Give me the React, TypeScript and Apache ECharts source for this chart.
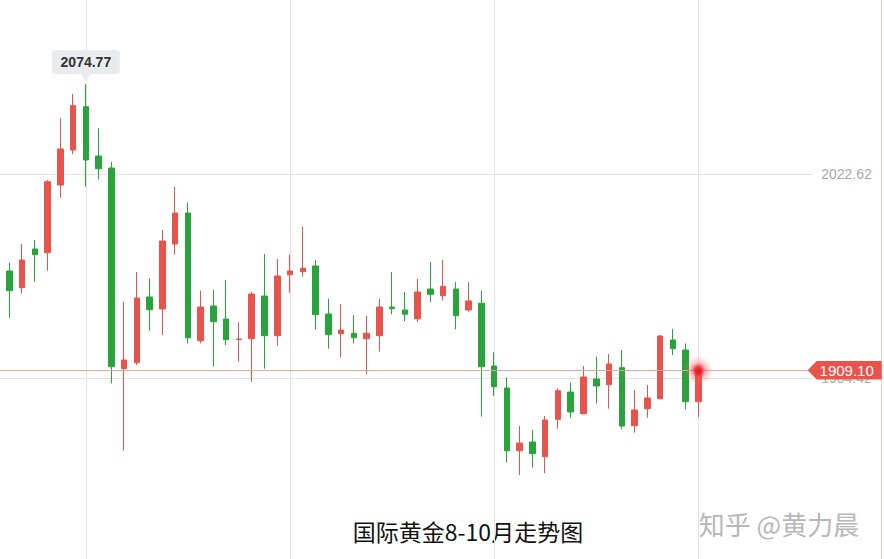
import React, { useEffect, useRef } from "react";
import * as echarts from "echarts";

// Trading days (first one only partially visible at the left edge), plus empty future slots
const dates = [
  "2020-07-29", "2020-07-30", "2020-07-31",
  "2020-08-03", "2020-08-04", "2020-08-05", "2020-08-06", "2020-08-07",
  "2020-08-10", "2020-08-11", "2020-08-12", "2020-08-13", "2020-08-14",
  "2020-08-17", "2020-08-18", "2020-08-19", "2020-08-20", "2020-08-21",
  "2020-08-24", "2020-08-25", "2020-08-26", "2020-08-27", "2020-08-28",
  "2020-08-31", "2020-09-01", "2020-09-02", "2020-09-03", "2020-09-04",
  "2020-09-07", "2020-09-08", "2020-09-09", "2020-09-10", "2020-09-11",
  "2020-09-14", "2020-09-15", "2020-09-16", "2020-09-17", "2020-09-18",
  "2020-09-21", "2020-09-22", "2020-09-23", "2020-09-24", "2020-09-25",
  "2020-09-28", "2020-09-29", "2020-09-30", "2020-10-01", "2020-10-02",
  "2020-10-05", "2020-10-06", "2020-10-07", "2020-10-08", "2020-10-09",
  "2020-10-12", "2020-10-13", "2020-10-14",
  "2020-10-15", "2020-10-16", "2020-10-19", "2020-10-20", "2020-10-21",
  "2020-10-22", "2020-10-23", "2020-10-26", "2020-10-27",
];

const opens = [
  1955.61, 1966.61, 1956.94, 1979.36, 1977.21, 2016.42, 2036.69, 2061.77,
  2033.22, 2026.27, 1910.03, 1913.50, 1951.56, 1944.61, 1982.25, 2000.21,
  1926.25, 1946.34, 1938.81, 1926.94, 1927.40, 1952.13, 1929.14, 1964.47,
  1966.21, 1969.51, 1941.71, 1930.30, 1930.53, 1927.40, 1929.14, 1945.76,
  1944.03, 1938.99, 1956.19, 1952.31, 1956.19, 1944.03, 1947.91, 1911.59,
  1898.85, 1862.54, 1867.58, 1859.06, 1880.72, 1896.53, 1883.97, 1904.07,
  1900.76, 1910.61, 1877.02, 1886.86, 1892.65, 1926.65, 1920.86, 1890.92,
];
const closes = [
  1970.09, 1955.20, 1972.98, 1976.05, 2018.33, 2037.27, 2062.35, 2030.90,
  2025.86, 1911.19, 1915.07, 1950.98, 1944.20, 1983.99, 2000.21, 1927.98,
  1945.76, 1937.25, 1926.83, 1927.23, 1953.29, 1929.14, 1963.72, 1966.61,
  1968.18, 1941.30, 1929.72, 1932.44, 1927.98, 1930.53, 1945.76, 1944.78,
  1941.54, 1954.45, 1953.12, 1957.75, 1940.73, 1949.24, 1911.19, 1899.60,
  1862.54, 1867.00, 1860.80, 1880.32, 1897.29, 1884.95, 1905.22, 1900.01,
  1912.75, 1876.84, 1886.11, 1893.06, 1928.97, 1921.61, 1890.92, 1909.10,
];
const lows = [
  1952.71, 1939.57, 1953.70, 1960.42, 1966.79, 2009.07, 2034.38, 2015.44,
  2019.72, 1901.57, 1862.54, 1912.17, 1932.04, 1929.55, 1976.05, 1924.74,
  1924.74, 1911.19, 1923.76, 1914.08, 1902.50, 1910.03, 1923.35, 1954.05,
  1963.31, 1932.85, 1921.61, 1916.63, 1924.74, 1906.79, 1919.88, 1941.54,
  1937.48, 1936.90, 1948.49, 1949.41, 1932.85, 1943.04, 1882.23, 1894.22,
  1855.59, 1848.46, 1852.69, 1849.45, 1875.28, 1881.65, 1883.50, 1889.99,
  1886.86, 1874.93, 1872.96, 1881.65, 1892.30, 1917.96, 1886.52, 1881.88,
];
const highs = [
  1974.14, 1971.42, 1982.25, 1984.57, 2019.32, 2055.05, 2069.13, 2074.77,
  2049.26, 2029.74, 1948.83, 1966.03, 1962.15, 1990.36, 2015.44, 2006.17,
  1955.20, 1955.61, 1961.40, 1936.90, 1954.45, 1976.46, 1973.56, 1976.05,
  1992.27, 1972.98, 1950.57, 1947.50, 1941.13, 1940.55, 1950.40, 1966.03,
  1954.45, 1961.98, 1971.83, 1972.98, 1960.24, 1960.07, 1955.20, 1919.53,
  1905.05, 1876.84, 1874.53, 1882.63, 1898.85, 1901.92, 1911.59, 1916.98,
  1918.54, 1920.86, 1897.69, 1900.59, 1929.55, 1933.02, 1924.74, 1909.86,
];

const yTickValues = [1904.42, 2022.62];
const lastPrice = 1909.1;
const titleText = "国际黄金8-10月走势图";
const watermarkText = "知乎 @黄力晨";

const RED = "#e8534b";
const GREEN = "#29a33b";
// the chart canvas starts 10px left of the page so the first candle is cut by the page edge
const SHIFT = 10;

export default function App() {
  const ref = useRef<HTMLDivElement>(null);

  useEffect(() => {
    if (!ref.current) return;
    const chart = echarts.init(ref.current, undefined, { renderer: "svg" });

    const candleData = dates.map((_, i) =>
      i < opens.length ? [opens[i], closes[i], lows[i], highs[i]] : "-"
    );
    const lastIndex = opens.length - 1;

    const glow = new echarts.graphic.RadialGradient(0.5, 0.5, 0.5, [
      { offset: 0, color: "rgba(232,20,30,1)" },
      { offset: 0.22, color: "rgba(236,30,40,0.9)" },
      { offset: 0.5, color: "rgba(245,70,80,0.35)" },
      { offset: 1, color: "rgba(255,140,140,0)" },
    ]);

    const option: any = {
      animation: false,
      backgroundColor: "#ffffff",
      grid: { left: SHIFT - 3.46, right: 70.82, top: 0, bottom: 0, containLabel: false },
      xAxis: {
        type: "category",
        data: dates,
        boundaryGap: false,
        axisLine: { show: false },
        axisTick: { show: false },
        axisLabel: { show: false },
        splitLine: {
          show: true,
          interval: (i: number) => (i - 7) % 16 === 0,
          lineStyle: { color: "#e2e2e2", width: 1 },
        },
      },
      yAxis: {
        type: "value",
        position: "right",
        min: 1799.81,
        max: 2123.57,
        scale: true,
        axisLine: { show: false },
        axisTick: { show: false, customValues: yTickValues },
        axisLabel: {
          customValues: yTickValues,
          formatter: (v: number) => v.toFixed(2),
          color: "#a9a9a9",
          fontSize: 14,
          margin: 8,
          fontFamily: "Liberation Sans, Arial, sans-serif",
        },
        splitLine: { show: true, lineStyle: { color: "#e2e2e2", width: 1 } },
      },
      series: [
        {
          type: "candlestick",
          data: candleData,
          barWidth: 6,
          itemStyle: {
            color: RED,
            color0: GREEN,
            borderColor: RED,
            borderColor0: GREEN,
            borderWidth: 1,
          },
          markLine: {
            silent: true,
            symbol: ["none", "none"],
            label: { show: false },
            lineStyle: { color: "#eba59f", width: 1, type: "solid" },
            data: [{ yAxis: lastPrice }],
          },
          markPoint: {
            silent: true,
            data: [
              {
                type: "max",
                valueDim: "highest",
                symbol:
                  "path://M3 0H65Q68 0 68 3V21Q68 24 65 24H39L34 32L29 24H3Q0 24 0 21V3Q0 0 3 0Z",
                symbolSize: [68, 32],
                symbolOffset: [0, -18.3],
                itemStyle: { color: "#e9ecef" },
                label: {
                  show: true,
                  position: "inside",
                  offset: [0, -4],
                  formatter: (p: any) => Number(p.value).toFixed(2),
                  color: "#333333",
                  fontSize: 14,
                  fontWeight: "bold",
                  fontFamily: "Liberation Sans, Arial, sans-serif",
                },
              },
              {
                coord: [dates[lastIndex], lastPrice],
                symbol: "circle",
                symbolSize: 30,
                itemStyle: { color: glow },
                label: { show: false },
              },
              {
                coord: [dates[dates.length - 1], lastPrice],
                symbol: "path://M0 9L9 0H74V18H9Z",
                symbolSize: [74, 18.5],
                symbolOffset: [31.5, 0],
                itemStyle: { color: RED },
                label: {
                  show: true,
                  position: "inside",
                  offset: [2, 0],
                  formatter: lastPrice.toFixed(2),
                  color: "#ffffff",
                  fontSize: 15,
                  fontFamily: "Liberation Sans, Arial, sans-serif",
                },
              },
            ],
          },
        },
      ],
      graphic: [
        {
          type: "line",
          shape: { x1: SHIFT + 881.5, y1: 0, x2: SHIFT + 881.5, y2: 559 },
          style: { stroke: "#e6d2bd", lineWidth: 1 },
          silent: true,
        },
        {
          type: "text",
          x: SHIFT + 468,
          y: 531,
          style: {
            text: titleText,
            fill: "#111111",
            fontSize: 23,
            fontFamily: "Noto Sans CJK SC, sans-serif",
            textAlign: "center",
            textVerticalAlign: "middle",
            align: "center",
            verticalAlign: "middle",
          },
          silent: true,
        },
        {
          type: "text",
          x: SHIFT + 779,
          y: 523,
          style: {
            text: watermarkText,
            fill: "#b7b7b7",
            fontSize: 26,
            fontFamily: "Noto Sans CJK SC, sans-serif",
            textAlign: "center",
            textVerticalAlign: "middle",
            align: "center",
            verticalAlign: "middle",
          },
          silent: true,
        },
      ],
    };

    chart.setOption(option);
    return () => chart.dispose();
  }, []);

  return (
    <div
      ref={ref}
      style={{
        position: "absolute",
        left: -SHIFT,
        top: 0,
        width: 884 + SHIFT,
        height: 559,
        background: "#fff",
      }}
    />
  );
}
